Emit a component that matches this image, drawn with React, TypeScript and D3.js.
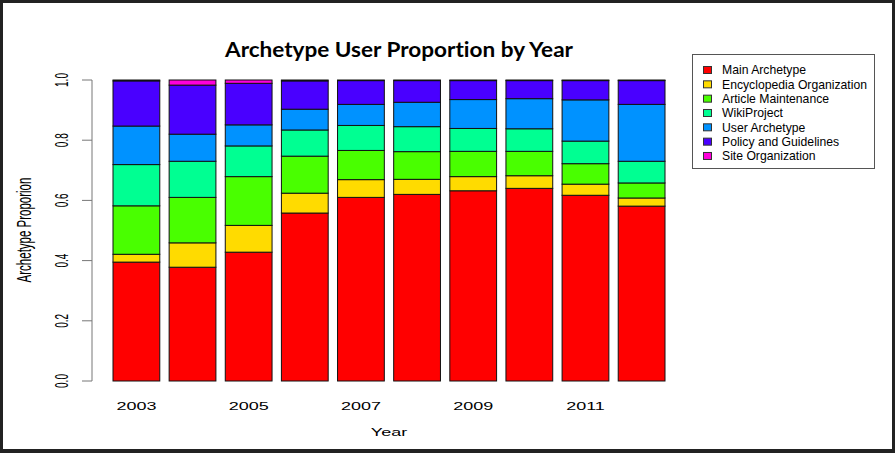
import React from "react";
import * as d3 from "d3";

const years = ["2003", "2004", "2005", "2006", "2007", "2008", "2009", "2010", "2011", "2012"];
const tickYears = ["2003", "2005", "2007", "2009", "2011"];
const seriesNames = [
  "Main Archetype",
  "Encyclopedia Organization",
  "Article Maintenance",
  "WikiProject",
  "User Archetype",
  "Policy and Guidelines",
  "Site Organization",
];
const seriesColors = ["#FF0000", "#FFDB00", "#49FF00", "#00FF92", "#0092FF", "#4900FF", "#FF00DB"];

const mainArchetype = [0.395, 0.378, 0.428, 0.558, 0.61, 0.62, 0.632, 0.64, 0.617, 0.581];
const encyclopediaOrg = [0.026, 0.081, 0.089, 0.066, 0.059, 0.05, 0.047, 0.042, 0.037, 0.027];
const articleMaint = [0.161, 0.151, 0.162, 0.123, 0.097, 0.092, 0.084, 0.081, 0.068, 0.05];
const wikiProject = [0.137, 0.12, 0.102, 0.087, 0.083, 0.083, 0.076, 0.075, 0.075, 0.072];
const userArchetype = [0.128, 0.09, 0.07, 0.069, 0.07, 0.081, 0.096, 0.1, 0.137, 0.189];
const policyGuidelines = [0.15, 0.163, 0.138, 0.094, 0.079, 0.072, 0.063, 0.06, 0.064, 0.079];
const siteOrg = [0.003, 0.017, 0.011, 0.003, 0.002, 0.002, 0.002, 0.002, 0.002, 0.002];
const yTicks = [0, 0.2, 0.4, 0.6, 0.8, 1.0];

const seriesValues = [
  mainArchetype,
  encyclopediaOrg,
  articleMaint,
  wikiProject,
  userArchetype,
  policyGuidelines,
  siteOrg,
];

const W = 895;
const H = 453;
const FONT = "'Liberation Sans', Arial, sans-serif";

export default function App() {
  const table = years.map((yr, i) => {
    const row: any = { year: yr };
    seriesNames.forEach((s, k) => (row[s] = seriesValues[k][i]));
    return row;
  });
  const stacked = d3.stack().keys(seriesNames)(table);

  const x = d3
    .scaleBand<string>()
    .domain(years)
    .range([113, 665])
    .paddingInner(0.2 / 1.2)
    .paddingOuter(0);
  const y = d3.scaleLinear().domain([0, 1]).range([381, 80]);
  const axisX = 92;
  const sx = 1.8;

  return (
    <svg
      width={W}
      height={H}
      style={{ position: "absolute", left: 0, top: 0, display: "block" }}
    >
      <rect x={0} y={0} width={W} height={H} fill="#222" />
      <rect x={3} y={3} width={W - 6} height={H - 7} fill="#fff" />

      {/* title */}
      <text
        x={399}
        y={56.5}
        textAnchor="middle"
        fontFamily="Lato, 'Open Sans', sans-serif"
        fontWeight={700}
        fontSize={21}
        textLength={348}
        lengthAdjust="spacingAndGlyphs"
        fill="#000"
        style={{ fontVariantLigatures: "none" }}
      >
        Archetype User Proportion by Year
      </text>

      {/* bars */}
      {stacked.map((layer, k) => (
        <g key={seriesNames[k]} fill={seriesColors[k]}>
          {layer.map((d: any, i: number) => (
            <rect
              key={years[i]}
              x={x(years[i])}
              y={y(d[1])}
              width={x.bandwidth()}
              height={Math.max(0, y(d[0]) - y(d[1]))}
              stroke="#111"
              strokeWidth={1}
            />
          ))}
        </g>
      ))}

      {/* y axis */}
      <line x1={axisX} x2={axisX} y1={y(0)} y2={y(1)} stroke="#777" strokeWidth={1} />
      {yTicks.map((t) => (
        <g key={t}>
          <line x1={axisX - 10} x2={axisX} y1={y(t)} y2={y(t)} stroke="#777" strokeWidth={1} />
          <text
            transform={`translate(68,${y(t)}) rotate(-90) scale(1,${sx})`}
            textAnchor="middle"
            fontFamily={FONT}
            fontSize={10}
            fill="#000"
          >
            {t.toFixed(1)}
          </text>
        </g>
      ))}
      <text
        transform={`translate(31,230) rotate(-90) scale(1,${sx})`}
        textAnchor="middle"
        fontFamily={FONT}
        fontSize={11.5}
        fill="#000"
      >
        Archetype Proporion
      </text>

      {/* x labels */}
      {tickYears.map((yr) => (
        <text
          key={yr}
          transform={`translate(${(x(yr) as number) + x.bandwidth() / 2},410) scale(${sx},1)`}
          textAnchor="middle"
          fontFamily={FONT}
          fontSize={10}
          fill="#000"
        >
          {yr}
        </text>
      ))}
      <text
        transform={`translate(389,435.5) scale(${sx},1)`}
        textAnchor="middle"
        fontFamily={FONT}
        fontSize={10}
        fill="#000"
      >
        Year
      </text>

      {/* legend */}
      <rect x={692.5} y={54.5} width={182} height={114} fill="#fff" stroke="#555" strokeWidth={1} />
      {seriesNames.map((s, k) => {
        const cy = 70 + k * 14.33;
        return (
          <g key={s}>
            <rect
              x={703.5}
              y={cy - 3.5}
              width={8}
              height={7}
              fill={seriesColors[k]}
              stroke="#333"
              strokeWidth={1}
            />
            <text x={722} y={cy + 4.3} fontFamily={FONT} fontSize={12.2} fill="#000">
              {s}
            </text>
          </g>
        );
      })}
    </svg>
  );
}
